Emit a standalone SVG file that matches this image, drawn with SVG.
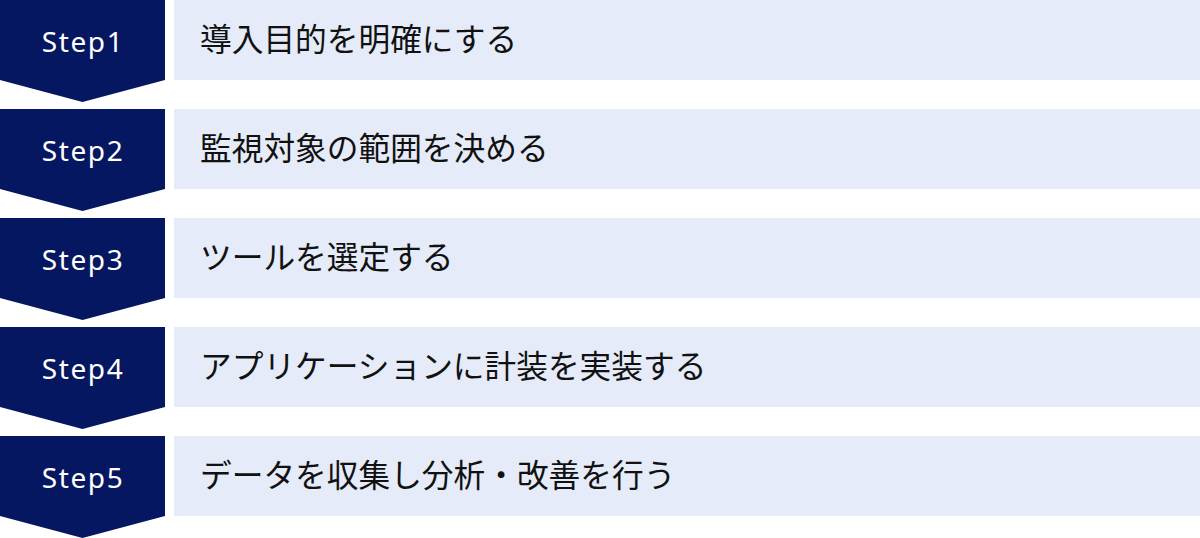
<svg xmlns="http://www.w3.org/2000/svg" width="1200" height="538" viewBox="0 0 1200 538">
<defs>
<style>
.badge{fill:#051760}
.bar{fill:#e5ebf8}
.st{font-family:"Noto Sans","Noto Sans CJK JP",sans-serif;font-size:28px;font-weight:400;letter-spacing:1.6px;fill:#ffffff;text-anchor:middle}
.lb{font-family:"Noto Sans CJK JP","Noto Sans",sans-serif;font-size:31.7px;fill:#111111}
</style>
<path id="chev" d="M0 0H165V80L82.5 102L0 80Z"/>
</defs>
<g id="connectors"></g>
<g id="step1">
<use href="#chev" class="badge"/>
<rect class="bar" x="174" y="0" width="1026" height="80"/>
<text class="st" x="83" y="52">Step1</text>
<text class="lb" x="200" y="51">導入目的を明確にする</text>
</g>
<g id="step2" transform="translate(0,109)">
<use href="#chev" class="badge"/>
<rect class="bar" x="174" y="0" width="1026" height="80"/>
<text class="st" x="83" y="52">Step2</text>
<text class="lb" x="200" y="51">監視対象の範囲を決める</text>
</g>
<g id="step3" transform="translate(0,218)">
<use href="#chev" class="badge"/>
<rect class="bar" x="174" y="0" width="1026" height="80"/>
<text class="st" x="83" y="52">Step3</text>
<text class="lb" x="200" y="51">ツールを選定する</text>
</g>
<g id="step4" transform="translate(0,327)">
<use href="#chev" class="badge"/>
<rect class="bar" x="174" y="0" width="1026" height="80"/>
<text class="st" x="83" y="52">Step4</text>
<text class="lb" x="200" y="51">アプリケーションに計装を実装する</text>
</g>
<g id="step5" transform="translate(0,436)">
<use href="#chev" class="badge"/>
<rect class="bar" x="174" y="0" width="1026" height="80"/>
<text class="st" x="83" y="52">Step5</text>
<text class="lb" x="200" y="51">データを収集し分析・改善を行う</text>
</g>
</svg>
